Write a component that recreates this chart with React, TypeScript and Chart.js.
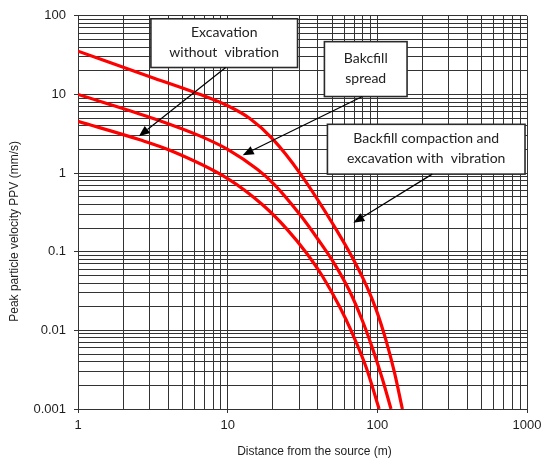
import React, { useEffect, useRef } from 'react';
import { Chart, registerables } from 'chart.js';

Chart.register(...registerables);

// ---- data ----
const vibrationX = [1, 3.26, 6.03, 10, 14, 19.95, 30.2, 53.3, 67.1, 84.5, 98.5, 114.8, 129.8, 147];
const vibrationY = [35.5, 16.0, 10.6, 7.17, 4.97, 2.72, 1.015, 0.19, 0.0887, 0.037, 0.0181, 0.00724, 0.00298, 0.001];
const spreadX = [1, 3.26, 6.51, 10, 15.85, 20.6, 30.2, 41.06, 51.7, 65.1, 79.4, 92.6, 108, 123.4];
const spreadY = [10, 4.88, 2.97, 2.0, 1.107, 0.709, 0.301, 0.135, 0.0701, 0.0319, 0.01334, 0.00599, 0.00243, 0.001];
const excavationX = [1, 2.59, 4.11, 10, 17.1, 24.7, 34.1, 43.0, 55.8, 68.1, 84.5, 102.8];
const excavationY = [4.55, 2.65, 1.95, 0.852, 0.396, 0.197, 0.093, 0.0488, 0.0202, 0.00914, 0.00333, 0.001];

const xTickLabels = ['1', '10', '100', '1000'];
const yTickLabels = ['0.001', '0.01', '0.1', '1', '10', '100'];

const xTitle = 'Distance from the source (m)';
const yTitle = 'Peak particle velocity PPV (mm/s)';

const noteTexts = [
  ['Excavation', 'without  vibration'],
  ['Bakcfill', 'spread'],
  ['Backfill compaction and', 'excavation with  vibration'],
];

// annotation geometry in data coordinates
const noteGeom = [
  { x0: 3.07, x1: 29.3, y0: 91.6, y1: 22, from: [9.7, 22], to: [2.55, 2.94] },
  { x0: 44.3, x1: 158, y0: 46.9, y1: 9.4, from: [79.4, 9.4], to: [12.6, 1.69] },
  { x0: 46.4, x1: 970, y0: 4.17, y1: 0.97, from: [232.7, 0.97], to: [69.2, 0.233] },
];

const pairs = (xs: number[], ys: number[]) => xs.map((x, i) => ({ x, y: ys[i] }));

const buildLogTicks = (labels: string[]) => {
  const decades = labels.map(Number);
  const out: number[] = [];
  for (let i = 0; i < decades.length - 1; i++) {
    for (let m = 1; m <= 9; m++) out.push(Number((m * decades[i]).toPrecision(6)));
  }
  out.push(decades[decades.length - 1]);
  return out;
};

const labelFor = (labels: string[], v: number) => {
  const s = labels.find((l) => Math.abs(Number(l) - v) / v < 1e-6);
  return s === undefined ? '' : s;
};

const GRID = '#333333';
const TEXT = '#1e1e1e';
const AXIS_FONT = { family: '"Liberation Sans", Arial, sans-serif', size: 13 };

const overlay = {
  id: 'overlay',
  afterDraw(chart: any) {
    const { ctx, chartArea, scales } = chart;
    const xs = scales.x;
    const ys = scales.y;
    ctx.save();
    // axis titles
    ctx.fillStyle = TEXT;
    ctx.font = '12px "Liberation Sans", Arial, sans-serif';
    ctx.textAlign = 'center';
    ctx.textBaseline = 'middle';
    ctx.fillText(xTitle, (chartArea.left + chartArea.right) / 2 + 12, 452);
    ctx.save();
    ctx.translate(15, (chartArea.top + chartArea.bottom) / 2 + 19);
    ctx.rotate(-Math.PI / 2);
    ctx.fillText(yTitle, 0, 0);
    ctx.restore();

    // annotation boxes and arrows
    noteGeom.forEach((g, i) => {
      const l = xs.getPixelForValue(g.x0);
      const r = xs.getPixelForValue(g.x1);
      const t = ys.getPixelForValue(g.y0);
      const b = ys.getPixelForValue(g.y1);
      ctx.fillStyle = '#ffffff';
      ctx.fillRect(l, t, r - l, b - t);
      ctx.strokeStyle = '#2a2a2a';
      ctx.lineWidth = 1.6;
      ctx.strokeRect(l, t, r - l, b - t);
      ctx.fillStyle = '#222222';
      ctx.font = '14px Lato, "Open Sans", sans-serif';
      ctx.textAlign = 'center';
      ctx.textBaseline = 'middle';
      const lines = noteTexts[i];
      const cy = (t + b) / 2 - 1;
      const lh = 20;
      lines.forEach((s, k) => {
        ctx.fillText(s, (l + r) / 2, cy + (k - (lines.length - 1) / 2) * lh);
      });
      // arrow
      const x0 = xs.getPixelForValue(g.from[0]);
      const y0 = ys.getPixelForValue(g.from[1]);
      const x1 = xs.getPixelForValue(g.to[0]);
      const y1 = ys.getPixelForValue(g.to[1]);
      const ang = Math.atan2(y1 - y0, x1 - x0);
      const hl = 11;
      const hw = 4.5;
      const bx = x1 - hl * Math.cos(ang);
      const by = y1 - hl * Math.sin(ang);
      ctx.strokeStyle = '#000000';
      ctx.lineWidth = 1.2;
      ctx.beginPath();
      ctx.moveTo(x0, y0);
      ctx.lineTo(bx, by);
      ctx.stroke();
      ctx.fillStyle = '#000000';
      ctx.beginPath();
      ctx.moveTo(x1, y1);
      ctx.lineTo(bx + hw * Math.sin(ang), by - hw * Math.cos(ang));
      ctx.lineTo(bx - hw * Math.sin(ang), by + hw * Math.cos(ang));
      ctx.closePath();
      ctx.fill();
    });
    ctx.restore();
  },
};

export default function App() {
  const ref = useRef<HTMLCanvasElement>(null);

  useEffect(() => {
    const xTicks = buildLogTicks(xTickLabels);
    const yTicks = buildLogTicks(yTickLabels);
    const lineStyle = {
      borderColor: '#ff0000',
      backgroundColor: '#ff0000',
      borderWidth: 3.2,
      pointRadius: 0,
      fill: false,
      cubicInterpolationMode: 'monotone' as const,
    };
    const chart = new Chart(ref.current as HTMLCanvasElement, {
      type: 'line',
      data: {
        datasets: [
          { label: 'Backfill compaction and excavation with vibration', data: pairs(vibrationX, vibrationY), ...lineStyle },
          { label: 'Bakcfill spread', data: pairs(spreadX, spreadY), ...lineStyle },
          { label: 'Excavation without vibration', data: pairs(excavationX, excavationY), ...lineStyle },
        ],
      },
      options: {
        responsive: false,
        animation: false,
        devicePixelRatio: 1,
        layout: { padding: { top: 14, right: 23, left: 0, bottom: 0 } },
        plugins: { legend: { display: false }, tooltip: { enabled: false } },
        scales: {
          x: {
            type: 'logarithmic',
            min: 1,
            max: 1000,
            afterBuildTicks: (s: any) => {
              s.ticks = xTicks.map((value) => ({ value }));
            },
            afterFit: (s: any) => {
              s.height = 57;
            },
            ticks: {
              autoSkip: false,
              maxRotation: 0,
              padding: 5,
              color: TEXT,
              font: AXIS_FONT,
              callback: (v: any) => labelFor(xTickLabels, Number(v)),
            },
            grid: {
              color: GRID,
              lineWidth: 1,
              drawTicks: true,
              tickLength: 4,
              tickColor: (c: any) => (c.tick && labelFor(xTickLabels, c.tick.value) ? GRID : 'rgba(0,0,0,0)'),
            },
            border: { color: GRID, width: 1 },
          },
          y: {
            type: 'logarithmic',
            min: 0.001,
            max: 100,
            afterBuildTicks: (s: any) => {
              s.ticks = yTicks.map((value) => ({ value }));
            },
            afterFit: (s: any) => {
              s.width = 78;
            },
            ticks: {
              autoSkip: false,
              padding: 8,
              color: TEXT,
              font: AXIS_FONT,
              callback: (v: any) => labelFor(yTickLabels, Number(v)),
            },
            grid: {
              color: GRID,
              lineWidth: 1,
              drawTicks: true,
              tickLength: 4,
              tickColor: (c: any) => (c.tick && labelFor(yTickLabels, c.tick.value) ? GRID : 'rgba(0,0,0,0)'),
            },
            border: { color: GRID, width: 1 },
          },
        },
      },
      plugins: [overlay],
    });
    return () => chart.destroy();
  }, []);

  return (
    <div style={{ position: 'fixed', left: 0, top: 0, width: 550, height: 466, background: '#ffffff' }}>
      <canvas ref={ref} width={550} height={466} style={{ width: 550, height: 466, display: 'block' }} />
    </div>
  );
}
